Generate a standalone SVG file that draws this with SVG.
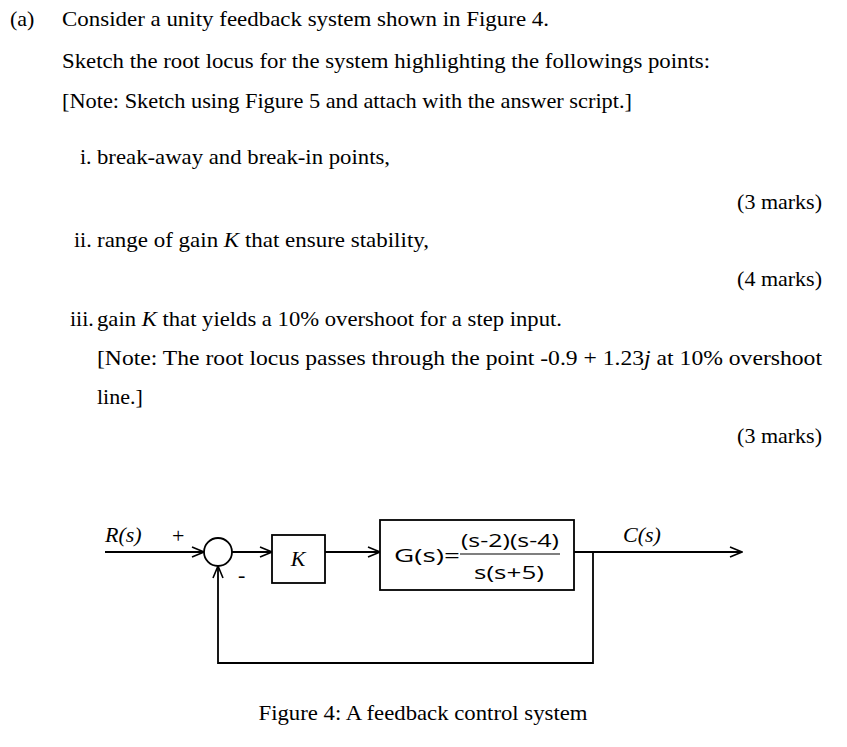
<svg xmlns="http://www.w3.org/2000/svg" width="847" height="747" viewBox="0 0 847 747">
<defs>
<marker id="ah" markerWidth="14" markerHeight="12" refX="13" refY="6" orient="auto" markerUnits="userSpaceOnUse"><path d="M1,1 L13,6 L1,11" fill="none" stroke="#000" stroke-width="1.6"/></marker>
<style>
.t{font-family:"Liberation Serif",serif;font-size:22px;fill:#000}
.m{font-family:"Open Sans","DejaVu Sans",sans-serif;font-size:19px;fill:#000}
.b{fill:#fff;stroke:#000;stroke-width:1.8}
.w{fill:none;stroke:#000;stroke-width:1.8}
</style>
</defs>
<rect width="847" height="747" fill="#fff"/>
<g id="question">
<text class="t" x="10" y="26">(a)</text>
<text class="t" x="62" y="26" textLength="487" lengthAdjust="spacingAndGlyphs">Consider a unity feedback system shown in Figure 4.</text>
<text class="t" x="62" y="68" textLength="648" lengthAdjust="spacingAndGlyphs">Sketch the root locus for the system highlighting the followings points:</text>
<text class="t" x="62" y="108" textLength="570" lengthAdjust="spacingAndGlyphs">[Note: Sketch using Figure 5 and attach with the answer script.]</text>
<text class="t" x="80" y="164">i.</text>
<text class="t" x="97" y="164" textLength="293" lengthAdjust="spacingAndGlyphs">break-away and break-in points,</text>
<text class="t" x="822" y="209" text-anchor="end">(3 marks)</text>
<text class="t" x="74" y="247">ii.</text>
<text class="t" x="97" y="247" textLength="332" lengthAdjust="spacingAndGlyphs">range of gain <tspan font-style="italic">K</tspan> that ensure stability,</text>
<text class="t" x="822" y="286" text-anchor="end">(4 marks)</text>
<text class="t" x="70" y="326">iii.</text>
<text class="t" x="97" y="326" textLength="465" lengthAdjust="spacingAndGlyphs">gain <tspan font-style="italic">K</tspan> that yields a 10% overshoot for a step input.</text>
<text class="t" x="97" y="365" textLength="725" lengthAdjust="spacingAndGlyphs">[Note: The root locus passes through the point -0.9 + 1.23<tspan font-style="italic">j</tspan> at 10% overshoot</text>
<text class="t" x="97" y="404">line.]</text>
<text class="t" x="822" y="443" text-anchor="end">(3 marks)</text>
</g>
<g id="connectors">
<line class="w" x1="105" y1="552" x2="204" y2="552" marker-end="url(#ah)"/>
<line class="w" x1="232" y1="552" x2="272" y2="552" marker-end="url(#ah)"/>
<line class="w" x1="325" y1="552" x2="380" y2="552" marker-end="url(#ah)"/>
<line class="w" x1="574" y1="552" x2="742" y2="552" marker-end="url(#ah)"/>
<polyline class="w" points="593,552 593,663 218,663 218,566" marker-end="url(#ah)"/>
</g>
<g id="sum">
<circle class="b" cx="218" cy="552" r="14"/>
<text class="t" x="172" y="543" font-size="20">+</text>
<text class="t" x="238" y="582" font-size="20">-</text>
</g>
<g id="labels">
<text class="t" x="105" y="542" font-style="italic">R(s)</text>
<text class="t" x="623" y="542" font-style="italic">C(s)</text>
</g>
<g id="K">
<rect class="b" x="272" y="535" width="53" height="48"/>
<text class="t" x="298" y="566" text-anchor="middle" font-style="italic">K</text>
</g>
<g id="G">
<rect class="b" x="380" y="520" width="194" height="70"/>
<text class="m" x="394" y="562" textLength="66" lengthAdjust="spacingAndGlyphs">G(s)=</text>
<text class="m" x="461" y="547" textLength="98" lengthAdjust="spacingAndGlyphs">(s-2)(s-4)</text>
<line x1="460" y1="554" x2="560" y2="554" stroke="#000" stroke-width="1.2"/>
<text class="m" x="474" y="579" textLength="70" lengthAdjust="spacingAndGlyphs">s(s+5)</text>
</g>
<g id="caption">
<text class="t" x="423" y="720" text-anchor="middle" textLength="329" lengthAdjust="spacingAndGlyphs">Figure 4: A feedback control system</text>
</g>
</svg>
